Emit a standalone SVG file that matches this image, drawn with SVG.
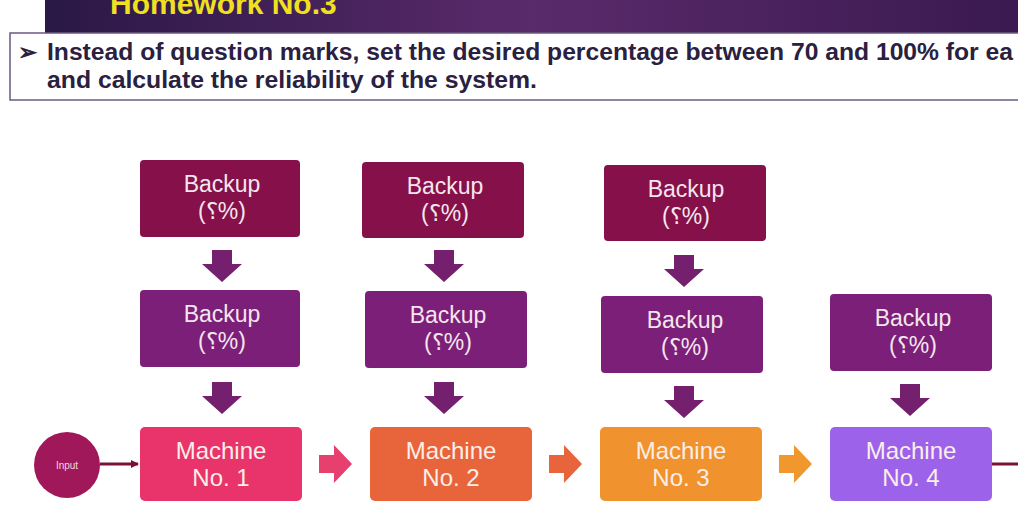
<svg xmlns="http://www.w3.org/2000/svg" width="1018" height="507" viewBox="0 0 1018 507">
<defs>
<linearGradient id="ban" x1="0" y1="0" x2="1" y2="0"><stop offset="0" stop-color="#2a1846"/><stop offset="0.5" stop-color="#5a2a6a"/><stop offset="1" stop-color="#3a1a50"/></linearGradient>
<radialGradient id="sh" cx="0.5" cy="0" r="0.5"><stop offset="0" stop-color="#4a1a6a"/><stop offset="1" stop-color="#4a1a6a" stop-opacity="0"/></radialGradient>
<marker id="ah" markerWidth="8" markerHeight="8" refX="7" refY="4" orient="auto" markerUnits="userSpaceOnUse"><path d="M0,0L8,4L0,8z" fill="#7a1038"/></marker>
</defs>
<style>
.t{font-family:"Liberation Sans",Arial,sans-serif;fill:#f4e6ee;text-anchor:middle;font-size:23px}
.m{font-family:"Liberation Sans",Arial,sans-serif;fill:#fbeee8;text-anchor:middle;font-size:24px}
.h{font-family:"Liberation Sans",Arial,sans-serif;font-weight:bold;font-size:23px;fill:#2a2040}
.bk{fill:#861049}.bp{fill:#7c1f78}.da{fill:#74206e}
</style>
<rect width="1018" height="507" fill="#fff"/>
<rect x="45" y="0" width="973" height="36" fill="url(#ban)"/>
<text x="110" y="14" font-family="Liberation Sans,sans-serif" font-weight="bold" font-size="30" fill="#f0e020">Homework No.3</text>
<ellipse cx="585" cy="100" rx="290" ry="10" fill="url(#sh)"/>
<rect x="10" y="33" width="1010" height="67" fill="#fff" stroke="#6a5a80" stroke-width="1.5"/>
<text class="h" x="18" y="60" font-size="16">➢</text>
<text class="h" x="47" y="60" textLength="966" lengthAdjust="spacingAndGlyphs">Instead of question marks, set the desired percentage between 70 and 100% for ea</text>
<text class="h" x="47" y="88" textLength="490" lengthAdjust="spacingAndGlyphs">and calculate the reliability of the system.</text>

<g id="connectors">
<g class="da">
<path d="M212,250h20v14h10l-20,18l-20,-18h10z"/>
<path d="M434,250h20v14h10l-20,18l-20,-18h10z"/>
<path d="M674,255h20v14h10l-20,18l-20,-18h10z"/>
<path d="M212,382h20v14h10l-20,18l-20,-18h10z"/>
<path d="M434,382h20v14h10l-20,18l-20,-18h10z"/>
<path d="M674,386h20v14h10l-20,18l-20,-18h10z"/>
<path d="M900,384h20v14h10l-20,18l-20,-18h10z"/>
</g>
<path d="M319,455h15v-10l18,19l-18,19v-10h-15z" fill="#e8406e"/>
<path d="M549,455h15v-10l18,19l-18,19v-10h-15z" fill="#e8643a"/>
<path d="M779,455h15v-10l18,19l-18,19v-10h-15z" fill="#f0982e"/>
<line x1="100" y1="464" x2="138" y2="464" stroke="#7a1038" stroke-width="3" marker-end="url(#ah)"/>
<line x1="992" y1="464" x2="1018" y2="464" stroke="#7a1038" stroke-width="3"/>
</g>

<g id="b1"><rect class="bk" x="140" y="160" width="160" height="77" rx="4"/><text class="t" x="222" y="192">Backup</text><text class="t" x="222" y="219">(؟%)</text></g>
<g id="b2"><rect class="bk" x="362" y="162" width="162" height="76" rx="4"/><text class="t" x="445" y="194">Backup</text><text class="t" x="445" y="221">(؟%)</text></g>
<g id="b3"><rect class="bk" x="604" y="165" width="162" height="76" rx="4"/><text class="t" x="686" y="197">Backup</text><text class="t" x="686" y="224">(؟%)</text></g>

<g id="p1"><rect class="bp" x="140" y="290" width="160" height="77" rx="4"/><text class="t" x="222" y="322">Backup</text><text class="t" x="222" y="349">(؟%)</text></g>
<g id="p2"><rect class="bp" x="365" y="291" width="162" height="77" rx="4"/><text class="t" x="448" y="323">Backup</text><text class="t" x="448" y="350">(؟%)</text></g>
<g id="p3"><rect class="bp" x="601" y="296" width="162" height="77" rx="4"/><text class="t" x="685" y="328">Backup</text><text class="t" x="685" y="355">(؟%)</text></g>
<g id="p4"><rect class="bp" x="830" y="294" width="162" height="77" rx="4"/><text class="t" x="913" y="326">Backup</text><text class="t" x="913" y="353">(؟%)</text></g>

<g id="input"><circle cx="67" cy="465" r="33" fill="#a0185a"/><text x="67" y="469" font-family="Liberation Sans,sans-serif" font-size="10" fill="#f0d8e4" text-anchor="middle">Input</text></g>
<g id="m1"><rect x="140" y="427" width="162" height="74" rx="5" fill="#e8336b"/><text class="m" x="221" y="459">Machine</text><text class="m" x="221" y="486">No. 1</text></g>
<g id="m2"><rect x="370" y="427" width="162" height="74" rx="5" fill="#e8643a"/><text class="m" x="451" y="459">Machine</text><text class="m" x="451" y="486">No. 2</text></g>
<g id="m3"><rect x="600" y="427" width="162" height="74" rx="5" fill="#f0922e"/><text class="m" x="681" y="459">Machine</text><text class="m" x="681" y="486">No. 3</text></g>
<g id="m4"><rect x="830" y="427" width="162" height="74" rx="5" fill="#9d62ea"/><text class="m" x="911" y="459">Machine</text><text class="m" x="911" y="486">No. 4</text></g>
</svg>
